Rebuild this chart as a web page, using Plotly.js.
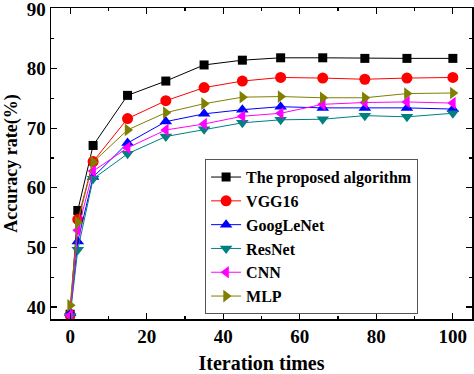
<!DOCTYPE html>
<html>
<head>
<meta charset="utf-8">
<script src="https://cdn.plot.ly/plotly-3.0.1.min.js"></script>
<style>html,body{margin:0;padding:0;background:#fff;}#chart{width:474px;height:374px;}</style>
</head>
<body>
<div id="chart"></div>
<script>
const iterations = [0, 2, 6, 15, 25, 35, 45, 55, 66, 77, 88, 100];
const proposed  = [38.8, 56.2, 67.1, 75.5, 77.9, 80.6, 81.4, 81.8, 81.8, 81.7, 81.7, 81.7];
const vgg16     = [38.7, 54.7, 64.4, 71.6, 74.6, 76.8, 77.9, 78.5, 78.4, 78.2, 78.4, 78.5];
const googlenet = [39.0, 51.0, 61.8, 67.5, 71.1, 72.4, 73.1, 73.6, 73.4, 73.4, 73.4, 73.2];
const resnet    = [38.5, 49.6, 61.5, 65.7, 68.6, 69.8, 70.9, 71.4, 71.5, 72.1, 71.9, 72.5];
const cnn       = [38.6, 52.9, 62.8, 66.7, 69.7, 70.7, 72.0, 72.5, 74.0, 74.3, 74.4, 74.2];
const mlp       = [40.3, 54.2, 64.3, 69.7, 72.6, 74.1, 75.2, 75.3, 75.1, 75.1, 75.8, 75.9];

const seriesNames = ["The proposed algorithm", "VGG16", "GoogLeNet", "ResNet", "CNN", "MLP"];
const seriesData = [proposed, vgg16, googlenet, resnet, cnn, mlp];
const colors = ["#000000", "#ff0000", "#0000ff", "#008080", "#ff00ff", "#808000"];
const symbols = ["square", "circle", "triangle-up", "triangle-down", "triangle-left", "triangle-right"];
const sizes = [9, 11, 11, 11, 11, 11];

const traces = seriesNames.map((n, i) => ({
  x: iterations, y: seriesData[i], name: n, type: "scatter", mode: "lines+markers",
  line: {color: colors[i], width: 1},
  marker: {color: colors[i], symbol: symbols[i], size: sizes[i]}
}));

const fam = "Liberation Serif, Times New Roman, serif";
const axisCommon = {
  showgrid: false, zeroline: false, showline: true, linecolor: "#000", linewidth: 1.5,
  mirror: "allticks", ticks: "inside", ticklen: 6, tickwidth: 1.2, tickcolor: "#000",
  ticklabeloverflow: "allow", automargin: false,
  tickfont: {family: fam, size: 19, color: "#000", weight: "bold"}
};
const layout = {
  width: 474, height: 374,
  margin: {l: 51, r: 2, t: 8, b: 55},
  paper_bgcolor: "#fff", plot_bgcolor: "#fff",
  font: {family: fam, size: 16, color: "#000"},
  showlegend: true,
  legend: {
    x: 0.366, y: 0.514, xanchor: "left", yanchor: "top",
    bordercolor: "#555", borderwidth: 1, bgcolor: "#fff",
    font: {family: fam, size: 16, color: "#000", weight: "bold"},
    tracegroupgap: 0, itemwidth: 30
  },
  xaxis: Object.assign({}, axisCommon, {
    range: [-5, 105], tick0: 0, dtick: 20,
    minor: {dtick: 10, ticks: "inside", ticklen: 3, tickcolor: "#000"},
    title: {text: "Iteration times", font: {family: fam, size: 20, color: "#000", weight: "bold"}}
  }),
  yaxis: Object.assign({}, axisCommon, {
    range: [38, 90.15], tick0: 40, dtick: 10,
    minor: {dtick: 5, ticks: "inside", ticklen: 3, tickcolor: "#000"},
    title: {text: "Accuracy rate(%)", standoff: 4, font: {family: fam, size: 18, color: "#000", weight: "bold"}}
  })
};
Plotly.newPlot("chart", traces, layout, {displayModeBar: false, staticPlot: true});
</script>
</body>
</html>
